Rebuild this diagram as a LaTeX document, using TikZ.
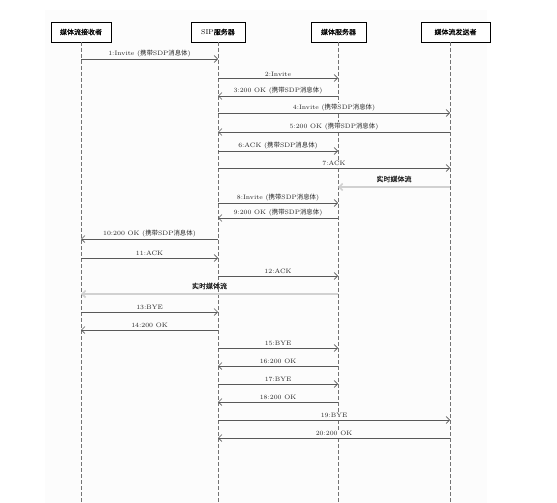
\documentclass[tikz,border=0pt]{standalone}
\usepackage{fontspec}
\newfontfamily\cjk{Noto Sans CJK SC}
\newfontfamily\cjkb[FakeBold=0.5]{Noto Sans CJK SC}
\usetikzlibrary{arrows.meta}
\colorlet{bgc}{black!1}
\tikzset{
  x=1pt, y=-1pt,
  actor/.style={draw=black, line width=0.9pt, fill=white, minimum height=20pt, inner sep=0pt, font=\fontsize{7}{8}\selectfont\cjkb},
  lifeline/.style={draw=black!55, line width=0.6pt, dash pattern=on 4pt off 2pt},
  msg/.style={draw=black!65, line width=0.6pt, -{Straight Barb[length=3.5pt,width=7pt]}},
  stream/.style={draw=black!18, line width=1.6pt, -{Straight Barb[length=3.5pt,width=7pt]}},
  lbl/.style={font=\fontsize{6.4}{7}\selectfont, text=black!85, fill=bgc, inner sep=1pt, above=0.6pt},
  slbl/.style={font=\fontsize{7}{8}\selectfont\cjkb, text=black!85, inner sep=1pt, above=3pt}
}
\newcommand\zh[1]{{\cjk #1}}
\begin{document}
\begin{tikzpicture}
\useasboundingbox (0,0) rectangle (557,503);
\fill[bgc] (45,10) rectangle (487,503);
% actors
\node[actor, minimum width=60pt] (R) at (81,32) {媒体流接收者};
\node[actor, minimum width=54pt] (S) at (218,32) {\rmfamily SIP\cjkb 服务器};
\node[actor, minimum width=55pt] (M) at (338.5,32) {媒体服务器};
\node[actor, minimum width=69pt] (T) at (455.5,32) {媒体流发送者};
% lifeline anchors
\coordinate (r) at (81,42);
\coordinate (s) at (218,42);
\coordinate (m) at (338,42);
\coordinate (t) at (450,42);
\coordinate (rb) at (81,503);
\coordinate (sb) at (218,503);
\coordinate (mb) at (338,503);
\coordinate (tb) at (450,503);
\draw[lifeline] (r) -- (rb);
\draw[lifeline] (s) -- (sb);
\draw[lifeline] (m) -- (mb);
\draw[lifeline] (t) -- (tb);
% messages
\draw[msg] (r |- 0,59) -- node[lbl]{1:Invite (\zh{携带}SDP\zh{消息体})} (s |- 0,59);
\draw[msg] (s |- 0,78) -- node[lbl]{2:Invite} (m |- 0,78);
\draw[msg] (m |- 0,96) -- node[lbl]{3:200 OK (\zh{携带}SDP\zh{消息体})} (s |- 0,96);
\draw[msg] (s |- 0,113) -- node[lbl]{4:Invite (\zh{携带}SDP\zh{消息体})} (t |- 0,113);
\draw[msg] (t |- 0,132) -- node[lbl]{5:200 OK (\zh{携带}SDP\zh{消息体})} (s |- 0,132);
\draw[msg] (s |- 0,151) -- node[lbl]{6:ACK (\zh{携带}SDP\zh{消息体})} (m |- 0,151);
\draw[msg] (s |- 0,168) -- node[lbl]{7:ACK} (t |- 0,168);
\draw[stream] (t |- 0,187) -- node[slbl]{实时媒体流} (m |- 0,187);
\draw[msg] (s |- 0,203) -- node[lbl]{8:Invite (\zh{携带}SDP\zh{消息体})} (m |- 0,203);
\draw[msg] (m |- 0,218) -- node[lbl]{9:200 OK (\zh{携带}SDP\zh{消息体})} (s |- 0,218);
\draw[msg] (s |- 0,239) -- node[lbl]{10:200 OK (\zh{携带}SDP\zh{消息体})} (r |- 0,239);
\draw[msg] (r |- 0,258) -- node[lbl]{11:ACK} (s |- 0,258);
\draw[msg] (s |- 0,276) -- node[lbl]{12:ACK} (m |- 0,276);
\draw[stream] (m |- 0,294) -- node[slbl]{实时媒体流} (r |- 0,294);
\draw[msg] (r |- 0,312) -- node[lbl]{13:BYE} (s |- 0,312);
\draw[msg] (s |- 0,330) -- node[lbl]{14:200 OK} (r |- 0,330);
\draw[msg] (s |- 0,348) -- node[lbl]{15:BYE} (m |- 0,348);
\draw[msg] (m |- 0,366) -- node[lbl]{16:200 OK} (s |- 0,366);
\draw[msg] (s |- 0,384) -- node[lbl]{17:BYE} (m |- 0,384);
\draw[msg] (m |- 0,402) -- node[lbl]{18:200 OK} (s |- 0,402);
\draw[msg] (s |- 0,420) -- node[lbl]{19:BYE} (t |- 0,420);
\draw[msg] (t |- 0,438) -- node[lbl]{20:200 OK} (s |- 0,438);
\end{tikzpicture}
\end{document}
